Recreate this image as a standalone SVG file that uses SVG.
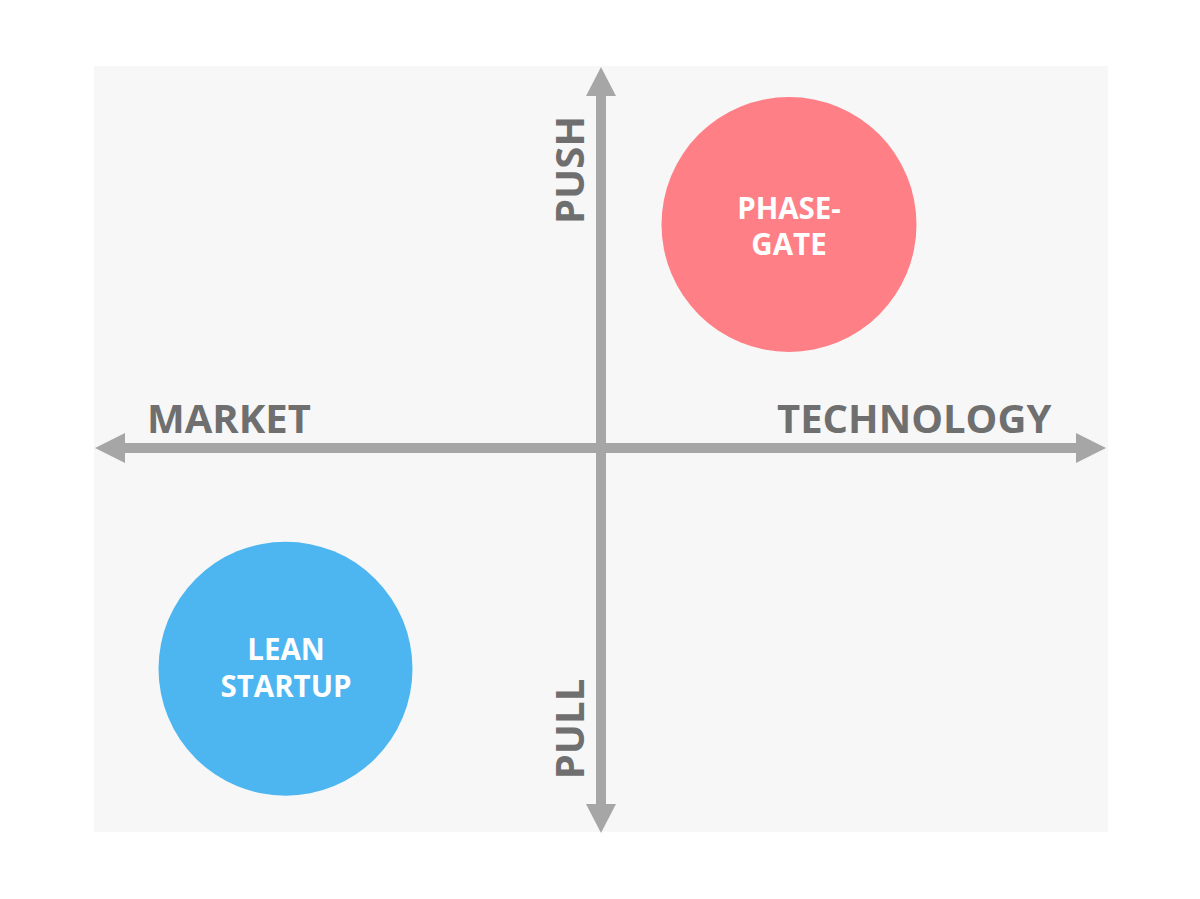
<svg xmlns="http://www.w3.org/2000/svg" width="1200" height="899" viewBox="0 0 1200 899">
  <style>
    .axis-label { font-family: "Open Sans", "Liberation Sans", sans-serif; font-weight: 700; font-size: 40px; fill: #6f6f6f; }
    .node-label { font-family: "Open Sans", "Liberation Sans", sans-serif; font-weight: 700; font-size: 29.5px; fill: #ffffff; text-anchor: middle; }
    .shaft { fill: #a6a6a6; }
    .head { fill: #a6a6a6; }
  </style>
  <rect x="0" y="0" width="1200" height="899" fill="#ffffff"/>
  <rect id="panel" x="94" y="66" width="1014" height="766" fill="#f7f7f7"/>
  <g id="connectors">
    <rect class="shaft" x="120" y="443" width="960" height="10"/>
    <polygon class="head" points="95,448 125,433 125,463"/>
    <polygon class="head" points="1106,448 1076,433 1076,463"/>
    <rect class="shaft" x="596" y="90" width="10" height="720"/>
    <polygon class="head" points="601,67 586,96 616,96"/>
    <polygon class="head" points="601,833 586,804 616,804"/>
  </g>
  <g id="labels">
    <text class="axis-label" x="147" y="433">MARKET</text>
    <text class="axis-label" x="777" y="433">TECHNOLOGY</text>
    <text class="axis-label" text-anchor="middle" transform="translate(584,170) rotate(-90)">PUSH</text>
    <text class="axis-label" text-anchor="middle" transform="translate(584,729) rotate(-90)">PULL</text>
  </g>
  <g id="phase-gate">
    <circle cx="789" cy="224.5" r="127.5" fill="#ff7f87"/>
    <text class="node-label" x="789" y="219">PHASE-</text>
    <text class="node-label" x="789" y="255">GATE</text>
  </g>
  <g id="lean-startup">
    <circle cx="285.5" cy="668.7" r="127" fill="#4db6f1"/>
    <text class="node-label" x="286" y="660">LEAN</text>
    <text class="node-label" x="286" y="697">STARTUP</text>
  </g>
</svg>
